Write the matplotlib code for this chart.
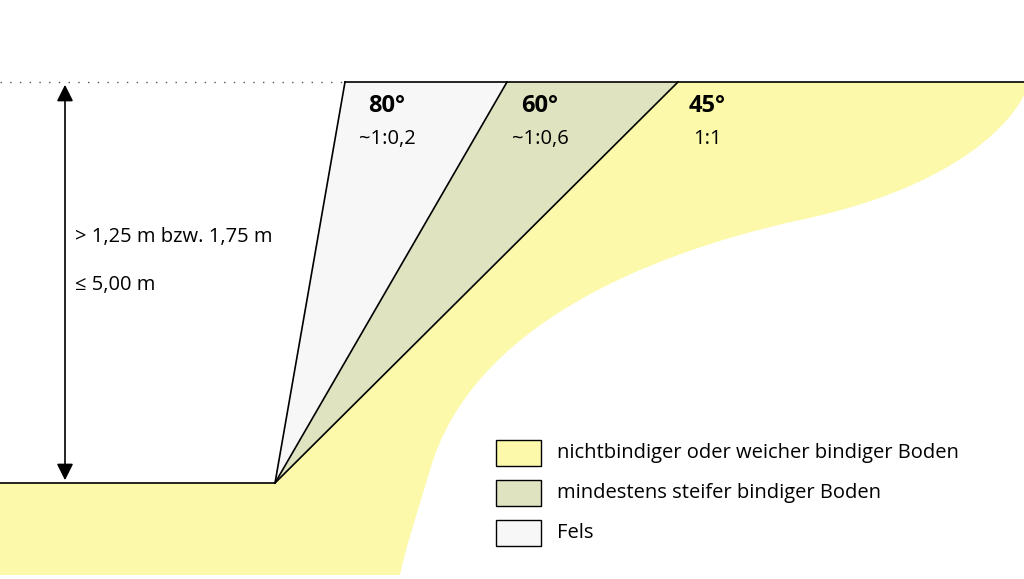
import matplotlib.pyplot as plt
from matplotlib.patches import Polygon, Rectangle, PathPatch
from matplotlib.path import Path

plt.rcParams['font.family'] = ['Open Sans', 'DejaVu Sans']

yellow = '#fcf9aa'
green = '#dfe3c0'
white = '#f7f7f7'

toe = (275, 483)
crest_x = [345, 507, 678]
top_y = 82
angles = ['80°', '60°', '45°']
ratios = ['~1:0,2', '~1:0,6', '1:1']
label_x = [387, 540, 707]

legend_labels = ['nichtbindiger oder weicher bindiger Boden',
                 'mindestens steifer bindiger Boden', 'Fels']
legend_colors = [yellow, green, white]

fig = plt.figure(figsize=(10.24, 5.79), dpi=100)
ax = fig.add_axes([0, 0, 1, 1])
ax.set_xlim(0, 1024)
ax.set_ylim(579, 0)
ax.axis('off')

# ground with a smooth boundary curve
verts = [(0, 483), toe, (678, top_y), (1010, top_y), (1024, top_y), (1024, 95),
         (1024, 95), (990, 180), (800, 220),
         (640, 255), (470, 330), (430, 470),
         (415, 520), (405, 550), (400, 575),
         (0, 575), (0, 483)]
codes = [Path.MOVETO, Path.LINETO, Path.LINETO, Path.LINETO, Path.LINETO, Path.LINETO,
         Path.CURVE4, Path.CURVE4, Path.CURVE4,
         Path.CURVE4, Path.CURVE4, Path.CURVE4,
         Path.CURVE4, Path.CURVE4, Path.CURVE4,
         Path.LINETO, Path.CLOSEPOLY]
ax.add_patch(PathPatch(Path(verts, codes), fc=yellow, ec='none'))
ax.add_patch(Polygon([toe, (crest_x[1], top_y), (crest_x[2], top_y)], fc=green, ec='none'))
ax.add_patch(Polygon([toe, (crest_x[0], top_y), (crest_x[1], top_y)], fc=white, ec='none'))

for cx in crest_x:
    ax.plot([toe[0], cx], [toe[1], top_y], color='black', lw=1.2)
ax.plot([crest_x[0], 1024], [top_y, top_y], color='black', lw=1.2)
ax.plot([0, toe[0]], [483, 483], color='black', lw=1.2)
ax.plot([0, crest_x[0]], [top_y, top_y], color='#555555', lw=1, ls=(0, (1, 6)))

ax.annotate('', xy=(65, top_y), xytext=(65, 483),
            arrowprops=dict(arrowstyle='<|-|>', color='black', lw=1.2,
                            mutation_scale=25))
ax.text(75, 237, '> 1,25 m bzw. 1,75 m', fontsize=14.5, va='center')
ax.text(75, 285, '≤ 5,00 m', fontsize=14.5, va='center')

for x, a, r in zip(label_x, angles, ratios):
    ax.text(x, 106, a, fontsize=17, fontweight='bold', ha='center', va='center')
    ax.text(x, 139, r, fontsize=14.5, ha='center', va='center')

for i, (lab, c) in enumerate(zip(legend_labels, legend_colors)):
    y = 440 + i * 40
    ax.add_patch(Rectangle((496, y), 45, 26, fc=c, ec='black', lw=1))
    ax.text(557, y + 13, lab, fontsize=14.5, va='center')

fig.savefig('out.png', dpi=100)
